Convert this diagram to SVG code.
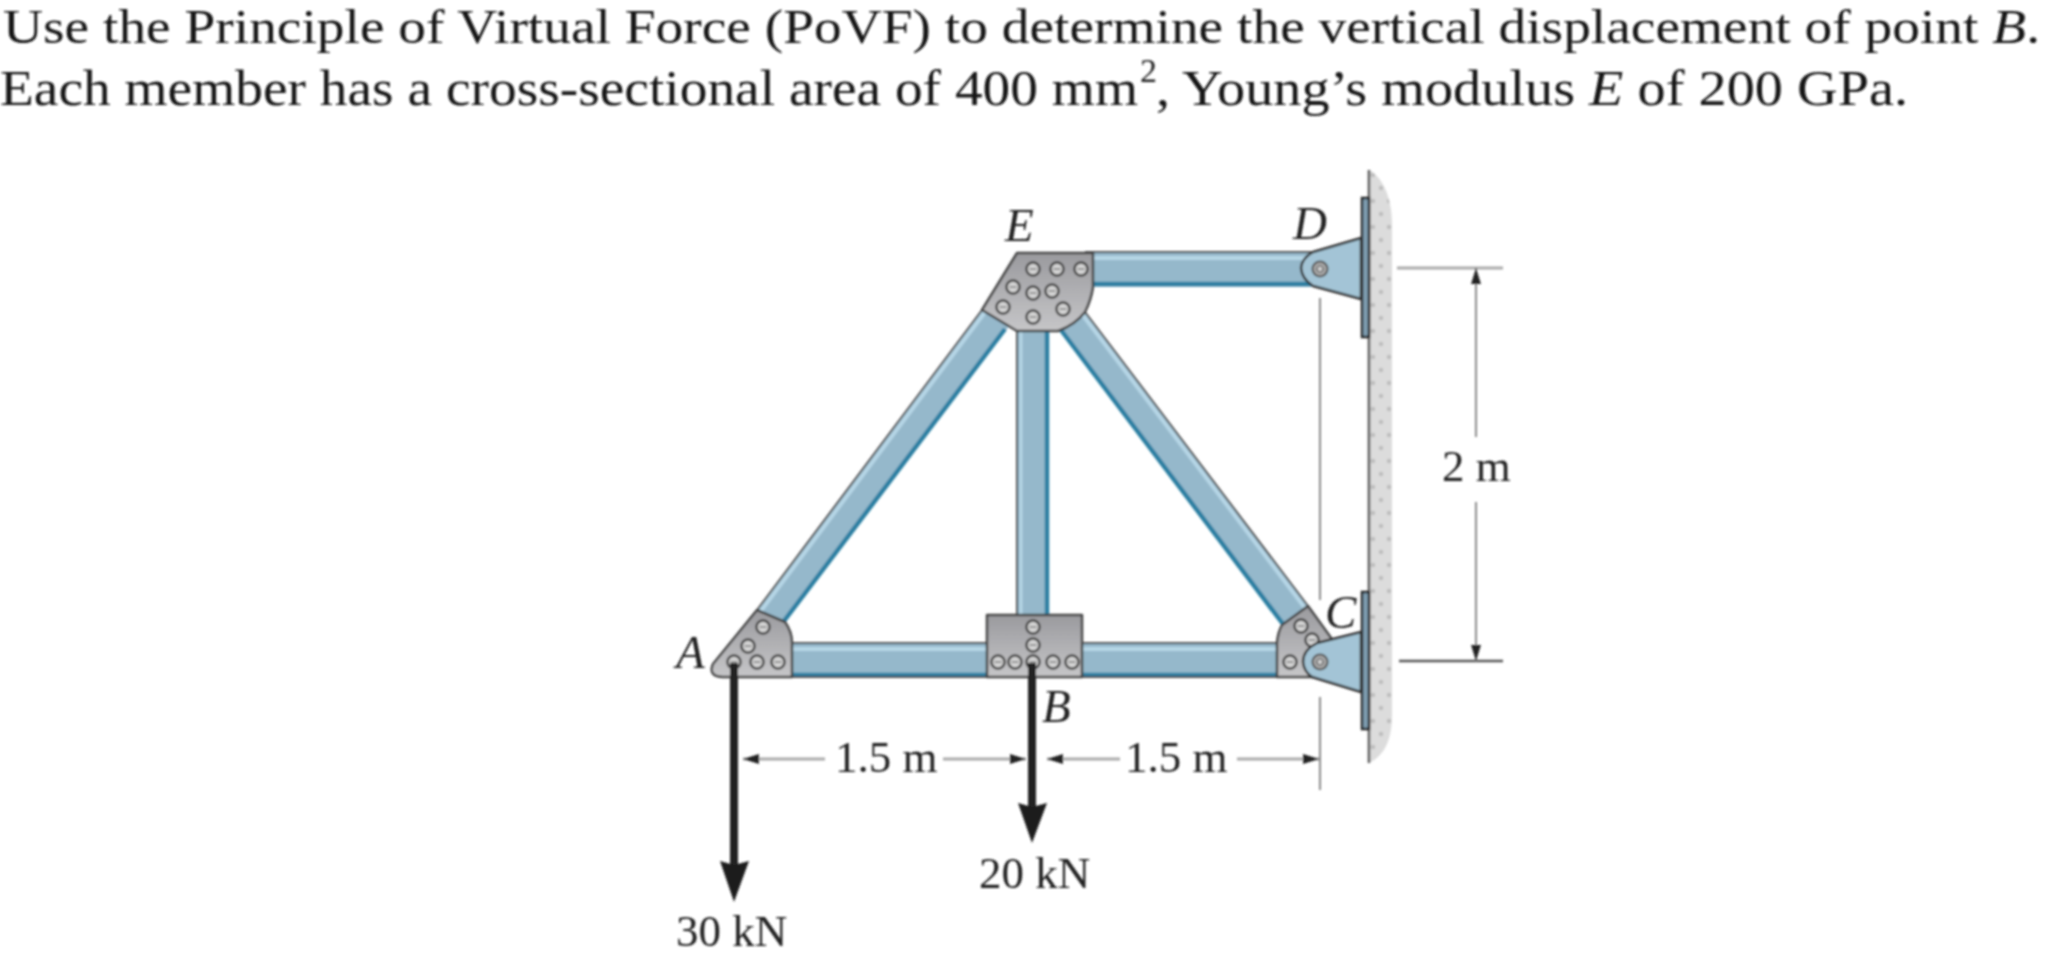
<svg xmlns="http://www.w3.org/2000/svg" width="2046" height="970" viewBox="0 0 2046 970">
<style>
text{font-family:"Liberation Serif","Times New Roman",serif;fill:#222}
.h{font-size:51px;fill:#151515}
.h1{font-size:47.5px;fill:#151515}
.l{font-size:45px}
.i{font-size:47px;font-style:italic}
.it{font-style:italic}
.body{fill:#95b8cb}
.edge{stroke:#555;stroke-width:2;fill:none}
.dk{stroke:#2b7fa2;stroke-width:4.5;fill:none}
.lt{stroke:#b6d6e6;stroke-width:4;fill:none}
.gus{fill:url(#gg);stroke:#444;stroke-width:2.5;stroke-linejoin:round}
.brk{fill:#a3c4d6;stroke:#333;stroke-width:2.5;stroke-linejoin:round}
.plate{fill:#7f9fb3;stroke:#222;stroke-width:2.5}
.dv{stroke:#8a8a8a;stroke-width:2;fill:none}
.dh{stroke:#aaa;stroke-width:3;fill:none}
.force{stroke:#222;stroke-width:8;fill:none}
.head{fill:#1e1e1e}
</style>
<defs>
<filter id="soft" x="-2%" y="-2%" width="104%" height="104%"><feGaussianBlur stdDeviation="0.9"/></filter>
<linearGradient id="gg" x1="0" y1="0" x2="0" y2="1"><stop offset="0" stop-color="#9a9a9e"/><stop offset="1" stop-color="#c6c6c8"/></linearGradient>
<pattern id="dots" width="16" height="26" patternUnits="userSpaceOnUse"><rect width="16" height="26" fill="#dcdcdc"/><circle cx="5" cy="6" r="2.2" fill="#bcbcbc"/><circle cx="13" cy="19" r="2.2" fill="#bcbcbc"/></pattern>
<g id="bolt"><circle r="6.5" fill="#d4d4d4" stroke="#444" stroke-width="2.5"/><line x1="-3.5" x2="3.5" stroke="#777" stroke-width="1.4"/></g>
<g id="pin"><circle r="7.5" fill="#a8a8a8" stroke="#555" stroke-width="2"/><circle r="3" fill="#d0d0d0" stroke="#555" stroke-width="1.2"/></g>
<marker id="tip" markerWidth="16" markerHeight="10" refX="16" refY="5" orient="auto-start-reverse" markerUnits="userSpaceOnUse"><path d="M0,0 L16,5 L0,10 Z" fill="#222"/></marker>
</defs>
<g filter="url(#soft)">
<g id="heading">
<text class="h1" x="3" y="42.5" textLength="2037" lengthAdjust="spacingAndGlyphs">Use the Principle of Virtual Force (PoVF) to determine the vertical displacement of point <tspan class="it">B</tspan>.</text>
<text class="h" x="0" y="105" textLength="1138" lengthAdjust="spacingAndGlyphs">Each member has a cross-sectional area of 400 mm</text>
<text x="1140" y="82" font-size="34" fill="#151515">2</text>
<text class="h" x="1156" y="105" textLength="752" lengthAdjust="spacingAndGlyphs">, Young’s modulus <tspan class="it">E</tspan> of 200 GPa.</text>
</g>
<g id="wall">
<path d="M1369,170 C1381,176 1392,195 1392,225 L1392,715 C1392,745 1381,757 1369,763 Z" fill="url(#dots)"/>
<line x1="1369" y1="170" x2="1369" y2="763" stroke="#555" stroke-width="2.5"/>
<rect class="plate" x="1362" y="198" width="7" height="139"/>
<rect class="plate" x="1362" y="592" width="7" height="137"/>
</g>
<g id="connectors">
<g id="member-AC">
<rect class="body" x="785" y="643" width="500" height="34"/>
<line class="lt" x1="785" y1="649" x2="1285" y2="649"/>
<line class="dk" x1="785" y1="675" x2="1285" y2="675"/>
<line class="edge" x1="785" y1="643" x2="1285" y2="643"/>
<line class="edge" x1="785" y1="677" x2="1285" y2="677"/>
</g>
<g id="member-DE">
<rect class="body" x="1085" y="253" width="232" height="34"/>
<line class="lt" x1="1085" y1="258" x2="1317" y2="258"/>
<line class="dk" x1="1085" y1="284" x2="1317" y2="284"/>
<line class="edge" x1="1085" y1="252" x2="1317" y2="252"/>
</g>
<g id="member-BE">
<rect class="body" x="1017" y="325" width="32" height="295"/>
<line class="lt" x1="1021" y1="325" x2="1021" y2="620" style="stroke-width:3"/>
<line class="dk" x1="1047" y1="325" x2="1047" y2="620"/>
<line class="edge" x1="1017" y1="325" x2="1017" y2="620"/>
</g>
<g id="member-AE">
<polygon class="body" points="986,305 1010,325 785,622 757,610"/>
<line class="lt" x1="985" y1="312" x2="760" y2="612"/>
<line class="dk" x1="1005" y1="329" x2="784" y2="621"/>
<line class="edge" x1="982" y1="310" x2="757" y2="610"/>
</g>
<g id="member-CE">
<polygon class="body" points="1082,308 1308,606 1282,625 1056,326"/>
<line class="lt" x1="1082" y1="314" x2="1305" y2="608"/>
<line class="dk" x1="1061" y1="330" x2="1283" y2="624"/>
<line class="edge" x1="1085" y1="312" x2="1308" y2="606"/>
</g>
</g>
<g id="node-A">
<path class="gus" d="M757,610 L785,622 Q792,632 792,643 L792,677 L722,677 Q708,676 713,664 Z"/>
<use href="#bolt" x="763" y="627"/><use href="#bolt" x="748" y="646"/><use href="#bolt" x="734" y="662"/><use href="#bolt" x="757" y="662"/><use href="#bolt" x="778" y="662"/>
</g>
<g id="node-B">
<rect class="gus" x="987" y="615" width="95" height="62"/>
<use href="#bolt" x="1033" y="627"/><use href="#bolt" x="1033" y="645"/><use href="#bolt" x="1033" y="662"/><use href="#bolt" x="998" y="662"/><use href="#bolt" x="1015" y="662"/><use href="#bolt" x="1053" y="662"/><use href="#bolt" x="1072" y="662"/>
</g>
<g id="node-C">
<path class="gus" d="M1282,625 L1308,606 L1334,642 L1330,677 L1277,677 L1277,643 Q1278,632 1282,625 Z"/>
<use href="#bolt" x="1301" y="626"/><use href="#bolt" x="1312" y="640"/><use href="#bolt" x="1290" y="662"/>
<path class="brk" d="M1361,632 L1317,643 Q1303,650 1303,662 Q1304,672 1312,677 L1361,692 Z"/>
<use href="#pin" x="1320" y="662"/>
</g>
<g id="node-D">
<path class="brk" d="M1361,238 L1313,252 Q1302,258 1301,268 Q1302,279 1313,286 L1361,299 Z"/>
<use href="#pin" x="1320" y="269"/>
</g>
<g id="node-E">
<path class="gus" d="M1017,253 L1093,253 L1093,287 Q1091,300 1085,312 Q1075,325 1058,331 L1017,331 L982,310 Z"/>
<use href="#bolt" x="1033" y="269"/><use href="#bolt" x="1057" y="269"/><use href="#bolt" x="1081" y="269"/><use href="#bolt" x="1013" y="287"/><use href="#bolt" x="1033" y="293"/><use href="#bolt" x="1052" y="291"/><use href="#bolt" x="1003" y="307"/><use href="#bolt" x="1063" y="309"/><use href="#bolt" x="1033" y="317"/>
</g>
<g id="forces">
<line class="force" x1="734" y1="663" x2="734" y2="870"/>
<path class="head" d="M720,861 L734,865 L749,861 L734,902 Z"/>
<line class="force" x1="1032" y1="663" x2="1032" y2="812"/>
<path class="head" d="M1018,803 L1032,807 L1047,803 L1032,843 Z"/>
</g>
<g id="dimensions">
<line class="dv" x1="1320" y1="298" x2="1320" y2="600"/>
<line class="dv" x1="1320" y1="697" x2="1320" y2="790"/>
<line class="dh" x1="1397" y1="268" x2="1503" y2="268"/>
<line x1="1399" y1="661" x2="1503" y2="661" stroke="#555" stroke-width="2.5"/>
<line class="dv" x1="1476" y1="437" x2="1476" y2="268" marker-end="url(#tip)"/>
<line class="dv" x1="1476" y1="502" x2="1476" y2="661" marker-end="url(#tip)"/>
<line class="dh" x1="825" y1="759" x2="743" y2="759" marker-end="url(#tip)"/>
<line class="dh" x1="943" y1="759" x2="1026" y2="759" marker-end="url(#tip)"/>
<line class="dh" x1="1120" y1="759" x2="1047" y2="759" marker-end="url(#tip)"/>
<line class="dh" x1="1237" y1="759" x2="1319" y2="759" marker-end="url(#tip)"/>
</g>
<g id="labels">
<text class="l" x="835" y="772">1.5 m</text>
<text class="l" x="1125" y="772">1.5 m</text>
<text class="l" x="1442" y="481">2 m</text>
<text class="l" x="979" y="888">20 kN</text>
<text class="l" x="676" y="946">30 kN</text>
<text class="i" x="1005" y="241">E</text>
<text class="i" x="1293" y="239">D</text>
<text class="i" x="676" y="668">A</text>
<text class="i" x="1042" y="722">B</text>
<text class="i" x="1325" y="628">C</text>
</g>
</g>
</svg>
